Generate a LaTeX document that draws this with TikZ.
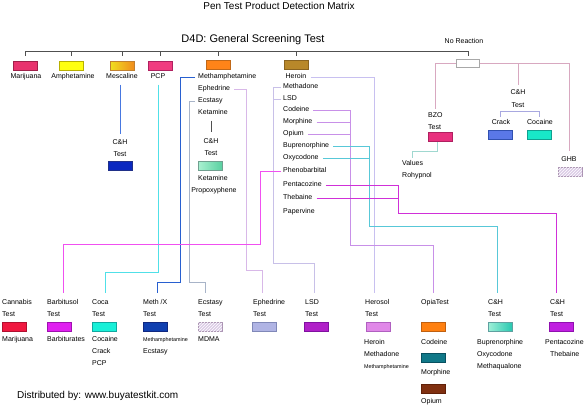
\documentclass[tikz,border=0pt]{standalone}
\usepackage{fontspec}
\setmainfont{Liberation Sans}
\usetikzlibrary{patterns}
\definecolor{cBar}{HTML}{505050}
\definecolor{cMari}{HTML}{E8336E}\definecolor{cMariD}{HTML}{A0204A}
\definecolor{cAmph}{HTML}{FFFF10}\definecolor{cAmphD}{HTML}{B8B000}
\definecolor{cMescL}{HTML}{F0E020}\definecolor{cMescR}{HTML}{F08C1C}\definecolor{cMescD}{HTML}{C08030}
\definecolor{cPCP}{HTML}{F03C80}\definecolor{cPCPD}{HTML}{B02060}
\definecolor{cMeth}{HTML}{FF8418}\definecolor{cMethD}{HTML}{C06818}
\definecolor{cHer}{HTML}{B8882A}\definecolor{cHerD}{HTML}{8A6420}
\definecolor{cNRD}{HTML}{A8A8A8}
\definecolor{cNavy}{HTML}{0A28C0}\definecolor{cNavyD}{HTML}{203088}
\definecolor{cKetL}{HTML}{A8F0D0}\definecolor{cKetR}{HTML}{58D0A0}\definecolor{cKetD}{HTML}{70A090}
\definecolor{cBZO}{HTML}{E8307E}\definecolor{cBZOD}{HTML}{B02060}
\definecolor{cCrack}{HTML}{5A78E8}\definecolor{cCrackD}{HTML}{3050B0}
\definecolor{cCocR}{HTML}{18E8C8}\definecolor{cCocRD}{HTML}{10A090}
\definecolor{cHatch}{HTML}{DCCCE6}\definecolor{cHatchD}{HTML}{A890B0}
\definecolor{cCan}{HTML}{F01840}\definecolor{cCanD}{HTML}{B01030}
\definecolor{cBarb}{HTML}{E020F0}\definecolor{cBarbD}{HTML}{A010B0}
\definecolor{cCoca}{HTML}{18F0D8}\definecolor{cCocaD}{HTML}{10A8A0}
\definecolor{cMethX}{HTML}{1040B0}\definecolor{cMethXD}{HTML}{102880}
\definecolor{cEph}{HTML}{B0B4E4}\definecolor{cEphD}{HTML}{8088B8}
\definecolor{cLSD}{HTML}{B020C8}\definecolor{cLSDD}{HTML}{8010A0}
\definecolor{cHeros}{HTML}{E088E8}\definecolor{cHerosD}{HTML}{B060C0}
\definecolor{cOpA}{HTML}{FF8010}\definecolor{cOpAD}{HTML}{C06010}
\definecolor{cOpB}{HTML}{107888}\definecolor{cOpBD}{HTML}{085060}
\definecolor{cOpC}{HTML}{803010}\definecolor{cOpCD}{HTML}{602008}
\definecolor{cCHbL}{HTML}{A0F0D8}\definecolor{cCHbR}{HTML}{28C8B0}\definecolor{cCHbD}{HTML}{60A0A0}
\definecolor{cCHp}{HTML}{C020E0}\definecolor{cCHpD}{HTML}{9010B0}
\definecolor{lMesc}{HTML}{4878E0}
\definecolor{lPCP}{HTML}{50E0E8}
\definecolor{lMeth}{HTML}{2860D0}
\definecolor{lEcs}{HTML}{A8B4C8}
\definecolor{lEph}{HTML}{D8B8E8}
\definecolor{lKet}{HTML}{505050}
\definecolor{lLSD}{HTML}{C8C0E8}
\definecolor{lHer}{HTML}{C8C0F0}
\definecolor{lOpia}{HTML}{C890E8}
\definecolor{lCHb}{HTML}{58C8D8}
\definecolor{lCHp}{HTML}{D030D8}
\definecolor{lBarb}{HTML}{F050F0}
\definecolor{lNR}{HTML}{D8A8C0}
\definecolor{lBr}{HTML}{A8A8E0}
\definecolor{lVal}{HTML}{A0D8D0}
\tikzset{
  lbl/.style={font=\fontsize{7}{8}\selectfont, inner sep=0pt, anchor=west, text height=5.2pt, text depth=1.4pt},
  clbl/.style={font=\fontsize{7}{8}\selectfont, inner sep=0pt, text height=5.2pt, text depth=1.4pt},
  slbl/.style={font=\fontsize{5.4}{6}\selectfont, inner sep=0pt, anchor=west, text height=4pt, text depth=1.1pt},
  sw/.style={minimum width=24pt, minimum height=9pt, inner sep=0pt, line width=1pt},
  hatch/.style={sw, fill=cHatch, draw=cHatchD, postaction={pattern=north east lines, pattern color=white}},
  cn/.style={line width=0.9pt},
  bar/.style={line width=1pt, cBar}
}
\begin{document}
\begin{tikzpicture}[x=1pt,y=-1pt]
\useasboundingbox (0,0) rectangle (584,407);
% titles
\node[font=\fontsize{10}{12}\selectfont, inner sep=0pt] (title) at (279,6) {Pen Test Product Detection Matrix};
\node[font=\fontsize{11}{13}\selectfont, inner sep=0pt] (d4d) at (253,40) {D4D: General Screening Test};
\node[clbl] (nr) at (464,42) {No Reaction};
% top swatches
\node[sw, fill=cMari, draw=cMariD] (swMari) at (25.5,65.5) {};
\node[sw, fill=cAmph, draw=cAmphD] (swAmph) at (71.5,65.5) {};
\node[sw, left color=cMescL, right color=cMescR, draw=cMescD] (swMesc) at (122,65.5) {};
\node[sw, fill=cPCP, draw=cPCPD] (swPCP) at (160,65.5) {};
\node[sw, fill=cMeth, draw=cMethD] (swMeth) at (218,65) {};
\node[sw, fill=cHer, draw=cHerD] (swHer) at (296,65) {};
\node[sw, fill=white, draw=cNRD, minimum width=23pt, minimum height=8pt] (swNR) at (468,63) {};
% bar
\coordinate (barL) at (25.5,51);
\coordinate (barR) at (468,51);
\draw[bar] (barL) -- (barR);
\foreach \s in {swMari,swAmph,swMesc,swPCP,swMeth,swHer,swNR} \draw[bar] (\s.north |- barL) -- ++(0,5);
% top labels
\node[clbl] (tMari) at (26,77) {Marijuana};
\node[clbl] (tAmph) at (73,77) {Amphetamine};
\node[clbl] (tMesc) at (122,77) {Mescaline};
\node[clbl] (tPCP) at (158,77) {PCP};
% meth column
\node[lbl] (tMeth) at (198,77) {Methamphetamine};
\node[lbl] (tEph) at (198,89) {Ephedrine};
\node[lbl] (tEcs) at (198,101) {Ecstasy};
\node[lbl] (tKet) at (198,113) {Ketamine};
\node[clbl] (tKetCH) at (211,142) {C\&H};
\node[clbl] (tKetTest) at (211,154) {Test};
\node[sw, left color=cKetL, right color=cKetR, draw=cKetD] (swKet) at (210.5,166) {};
\node[clbl] (tKet2) at (213,179) {Ketamine};
\node[clbl] (tProp) at (214,191) {Propoxyphene};
% mescaline C&H
\node[clbl] (tMescCH) at (120,143) {C\&H};
\node[clbl] (tMescTest) at (120,155) {Test};
\node[sw, fill=cNavy, draw=cNavyD] (swMescCH) at (120,165.5) {};
% heroin column
\node[clbl] (tHer) at (296,77) {Heroin};
\node[lbl] (tMetd) at (283,87) {Methadone};
\node[lbl] (tLSD) at (283,99) {LSD};
\node[lbl] (tCod) at (283,110) {Codeine};
\node[lbl] (tMor) at (283,122) {Morphine};
\node[lbl] (tOpi) at (283,134) {Opium};
\node[lbl] (tBup) at (283,146) {Buprenorphine};
\node[lbl] (tOxy) at (283,158) {Oxycodone};
\node[lbl] (tPhe) at (283,171) {Phenobarbital};
\node[lbl] (tPen) at (283,185) {Pentacozine};
\node[lbl] (tThe) at (283,198) {Thebaine};
\node[lbl] (tPap) at (283,212) {Papervine};
% no reaction branch
\node[lbl] (tBZO) at (428,116) {BZO};
\node[lbl] (tBZOTest) at (428,128) {Test};
\node[sw, fill=cBZO, draw=cBZOD] (swBZO) at (440,137) {};
\node[lbl] (tVal) at (402,164) {Values};
\node[lbl] (tRoh) at (402,176) {Rohypnol};
\node[clbl] (tCHr) at (518,93) {C\&H};
\node[clbl] (tCHrTest) at (518,106) {Test};
\node[clbl] (tCrack) at (501,123) {Crack};
\node[clbl] (tCocR) at (540,123) {Cocaine};
\node[sw, fill=cCrack, draw=cCrackD] (swCrack) at (500,135) {};
\node[sw, fill=cCocR, draw=cCocRD] (swCocR) at (539.5,135) {};
\node[clbl] (tGHB) at (569,160) {GHB};
\node[hatch] (swGHB) at (570,171.5) {};
% bottom tests
\node[lbl] (bCan1) at (2,303) {Cannabis};
\node[lbl] (bCan2) at (2,315) {Test};
\node[sw, fill=cCan, draw=cCanD] (sCan) at (14,326.5) {};
\node[lbl] (bCan3) at (2,340) {Marijuana};
\node[lbl] (bBarb1) at (47,303) {Barbitusol};
\node[lbl] (bBarb2) at (47,315) {Test};
\node[sw, fill=cBarb, draw=cBarbD] (sBarb) at (59,326.5) {};
\node[lbl] (bBarb3) at (47,340) {Barbiturates};
\node[lbl] (bCoca1) at (92,303) {Coca};
\node[lbl] (bCoca2) at (92,315) {Test};
\node[sw, fill=cCoca, draw=cCocaD] (sCoca) at (104,326.5) {};
\node[lbl] (bCoca3) at (92,340) {Cocaine};
\node[lbl] (bCoca4) at (92,352) {Crack};
\node[lbl] (bCoca5) at (92,364) {PCP};
\node[lbl] (bMX1) at (143,303) {Meth /X};
\node[lbl] (bMX2) at (143,315) {Test};
\node[sw, fill=cMethX, draw=cMethXD] (sMX) at (155,326.5) {};
\node[slbl] (bMX3) at (143,340) {Methamphetamine};
\node[lbl] (bMX4) at (143,352) {Ecstasy};
\node[lbl] (bEcs1) at (198,303) {Ecstasy};
\node[lbl] (bEcs2) at (198,315) {Test};
\node[hatch] (sEcs) at (210,326.5) {};
\node[lbl] (bEcs3) at (198,340) {MDMA};
\node[lbl] (bEph1) at (253,303) {Ephedrine};
\node[lbl] (bEph2) at (253,315) {Test};
\node[sw, fill=cEph, draw=cEphD] (sEph) at (264.5,326.5) {};
\node[lbl] (bLSD1) at (305,303) {LSD};
\node[lbl] (bLSD2) at (305,315) {Test};
\node[sw, fill=cLSD, draw=cLSDD] (sLSD) at (316,326.5) {};
\node[lbl] (bHs1) at (365,303) {Herosol};
\node[lbl] (bHs2) at (365,315) {Test};
\node[sw, fill=cHeros, draw=cHerosD] (sHs) at (378,326.5) {};
\node[lbl] (bHs3) at (364,343) {Heroin};
\node[lbl] (bHs4) at (364,355) {Methadone};
\node[slbl] (bHs5) at (364,367) {Methamphetamine};
\node[lbl] (bOp1) at (421,303) {OpiaTest};
\node[sw, fill=cOpA, draw=cOpAD] (sOpA) at (433.5,327) {};
\node[lbl] (bOp2) at (421,343) {Codeine};
\node[sw, fill=cOpB, draw=cOpBD] (sOpB) at (433.5,357.5) {};
\node[lbl] (bOp3) at (421,373) {Morphine};
\node[sw, fill=cOpC, draw=cOpCD] (sOpC) at (433.5,389) {};
\node[lbl] (bOp4) at (421,402) {Opium};
\node[lbl] (bCb1) at (488,303) {C\&H};
\node[lbl] (bCb2) at (488,315) {Test};
\node[sw, left color=cCHbL, right color=cCHbR, draw=cCHbD] (sCb) at (500,326.5) {};
\node[lbl] (bCb3) at (477,343) {Buprenorphine};
\node[lbl] (bCb4) at (477,355) {Oxycodone};
\node[lbl] (bCb5) at (477,367) {Methaqualone};
\node[lbl] (bCp1) at (550,303) {C\&H};
\node[lbl] (bCp2) at (550,315) {Test};
\node[sw, fill=cCHp, draw=cCHpD] (sCp) at (561,326.5) {};
\node[lbl] (bCp3) at (545,343) {Pentacozine};
\node[lbl] (bCp4) at (550,355) {Thebaine};
\node[font=\fontsize{10}{12}\selectfont, inner sep=0pt, anchor=west] (dist) at (17,396) {Distributed by: www.buyatestkit.com};
% bend points and inputs
\coordinate (kCoca) at (105,272);  \coordinate (inCoca) at (105,293);
\coordinate (kMX) at (180,282);    \coordinate (inMX) at (157,293);
\coordinate (kEcs) at (189,282);   \coordinate (inEcs) at (205,293);
\coordinate (kEph) at (246,270);   \coordinate (inEph) at (262,293);
\coordinate (kLSD) at (273,263);   \coordinate (inLSD) at (314,293);
\coordinate (inHs) at (374,293);
\coordinate (kOp) at (350,245);    \coordinate (inOp) at (433,293);
\coordinate (kCb) at (369,226);    \coordinate (inCb) at (497,293);
\coordinate (kCp) at (398,213);    \coordinate (inCp) at (556,293);
\coordinate (kBarb) at (260,244);  \coordinate (inBarb) at (63,293);
% connectors
\draw[cn, lMesc] (tMesc.south -| swMescCH.north) ++(0,4) -- ([yshift=6pt]tMescCH.north);
\draw[cn, lKet] ([yshift=-4pt]tKet.south -| tKetCH) -- ([yshift=7pt]tKetCH.north);
\draw[cn, lPCP] (tPCP.south) ++(0,4) |- (kCoca) -- (inCoca);
\draw[cn, lMeth] ([xshift=-3pt]tMeth.west) -| (kMX) -| (inMX);
\draw[cn, lEcs] ([xshift=-3pt]tEcs.west) -| (kEcs) -| (inEcs);
\draw[cn, lEph] ([xshift=4pt]tEph.east) -| (kEph) -| (inEph);
\draw[cn, lLSD] ([xshift=-2pt]tMetd.west) -| (kLSD) -| (inLSD);
\draw[cn, lLSD] ([xshift=-2pt]tLSD.west) -- (tLSD.west -| kLSD);
\draw[cn, lHer] ([xshift=4pt]tHer.east) -| (inHs);
\draw[cn, lOpia] ([xshift=4pt]tCod.east) -| (kOp) -| (inOp);
\draw[cn, lOpia] ([xshift=4pt]tMor.east) -- (tMor.east -| kOp);
\draw[cn, lOpia] ([xshift=4pt]tOpi.east) -- (tOpi.east -| kOp);
\draw[cn, lCHb] ([xshift=4pt]tBup.east) -| (kCb) -| (inCb);
\draw[cn, lCHb] ([xshift=4pt]tOxy.east) -- (tOxy.east -| kCb);
\draw[cn, lCHp] ([xshift=4pt]tPen.east) -| (kCp) -| (inCp);
\draw[cn, lCHp] ([xshift=4pt]tThe.east) -- (tThe.east -| kCp);
\draw[cn, lBarb] ([xshift=-2pt]tPhe.west) -| (kBarb) -| (inBarb);
\draw[cn, lNR] (swNR.west) -| ([yshift=4pt]tBZO.north);
\draw[cn, lNR] (swNR.east) -| ([yshift=6pt]tGHB.north);
\draw[cn, lNR] (swNR.east -| tCHr) -- ([yshift=5pt]tCHr.north);
\draw[cn, lBr] ([yshift=13pt]swCrack.north) -- ([yshift=19pt]swCrack.north) -- ([yshift=19pt]swCocR.north) -- ([yshift=13pt]swCocR.north);
\draw[cn, lVal] ([xshift=-3pt]swBZO.south) -- ++(0,9) -| ([yshift=3pt]tVal.north);
\end{tikzpicture}
\end{document}
